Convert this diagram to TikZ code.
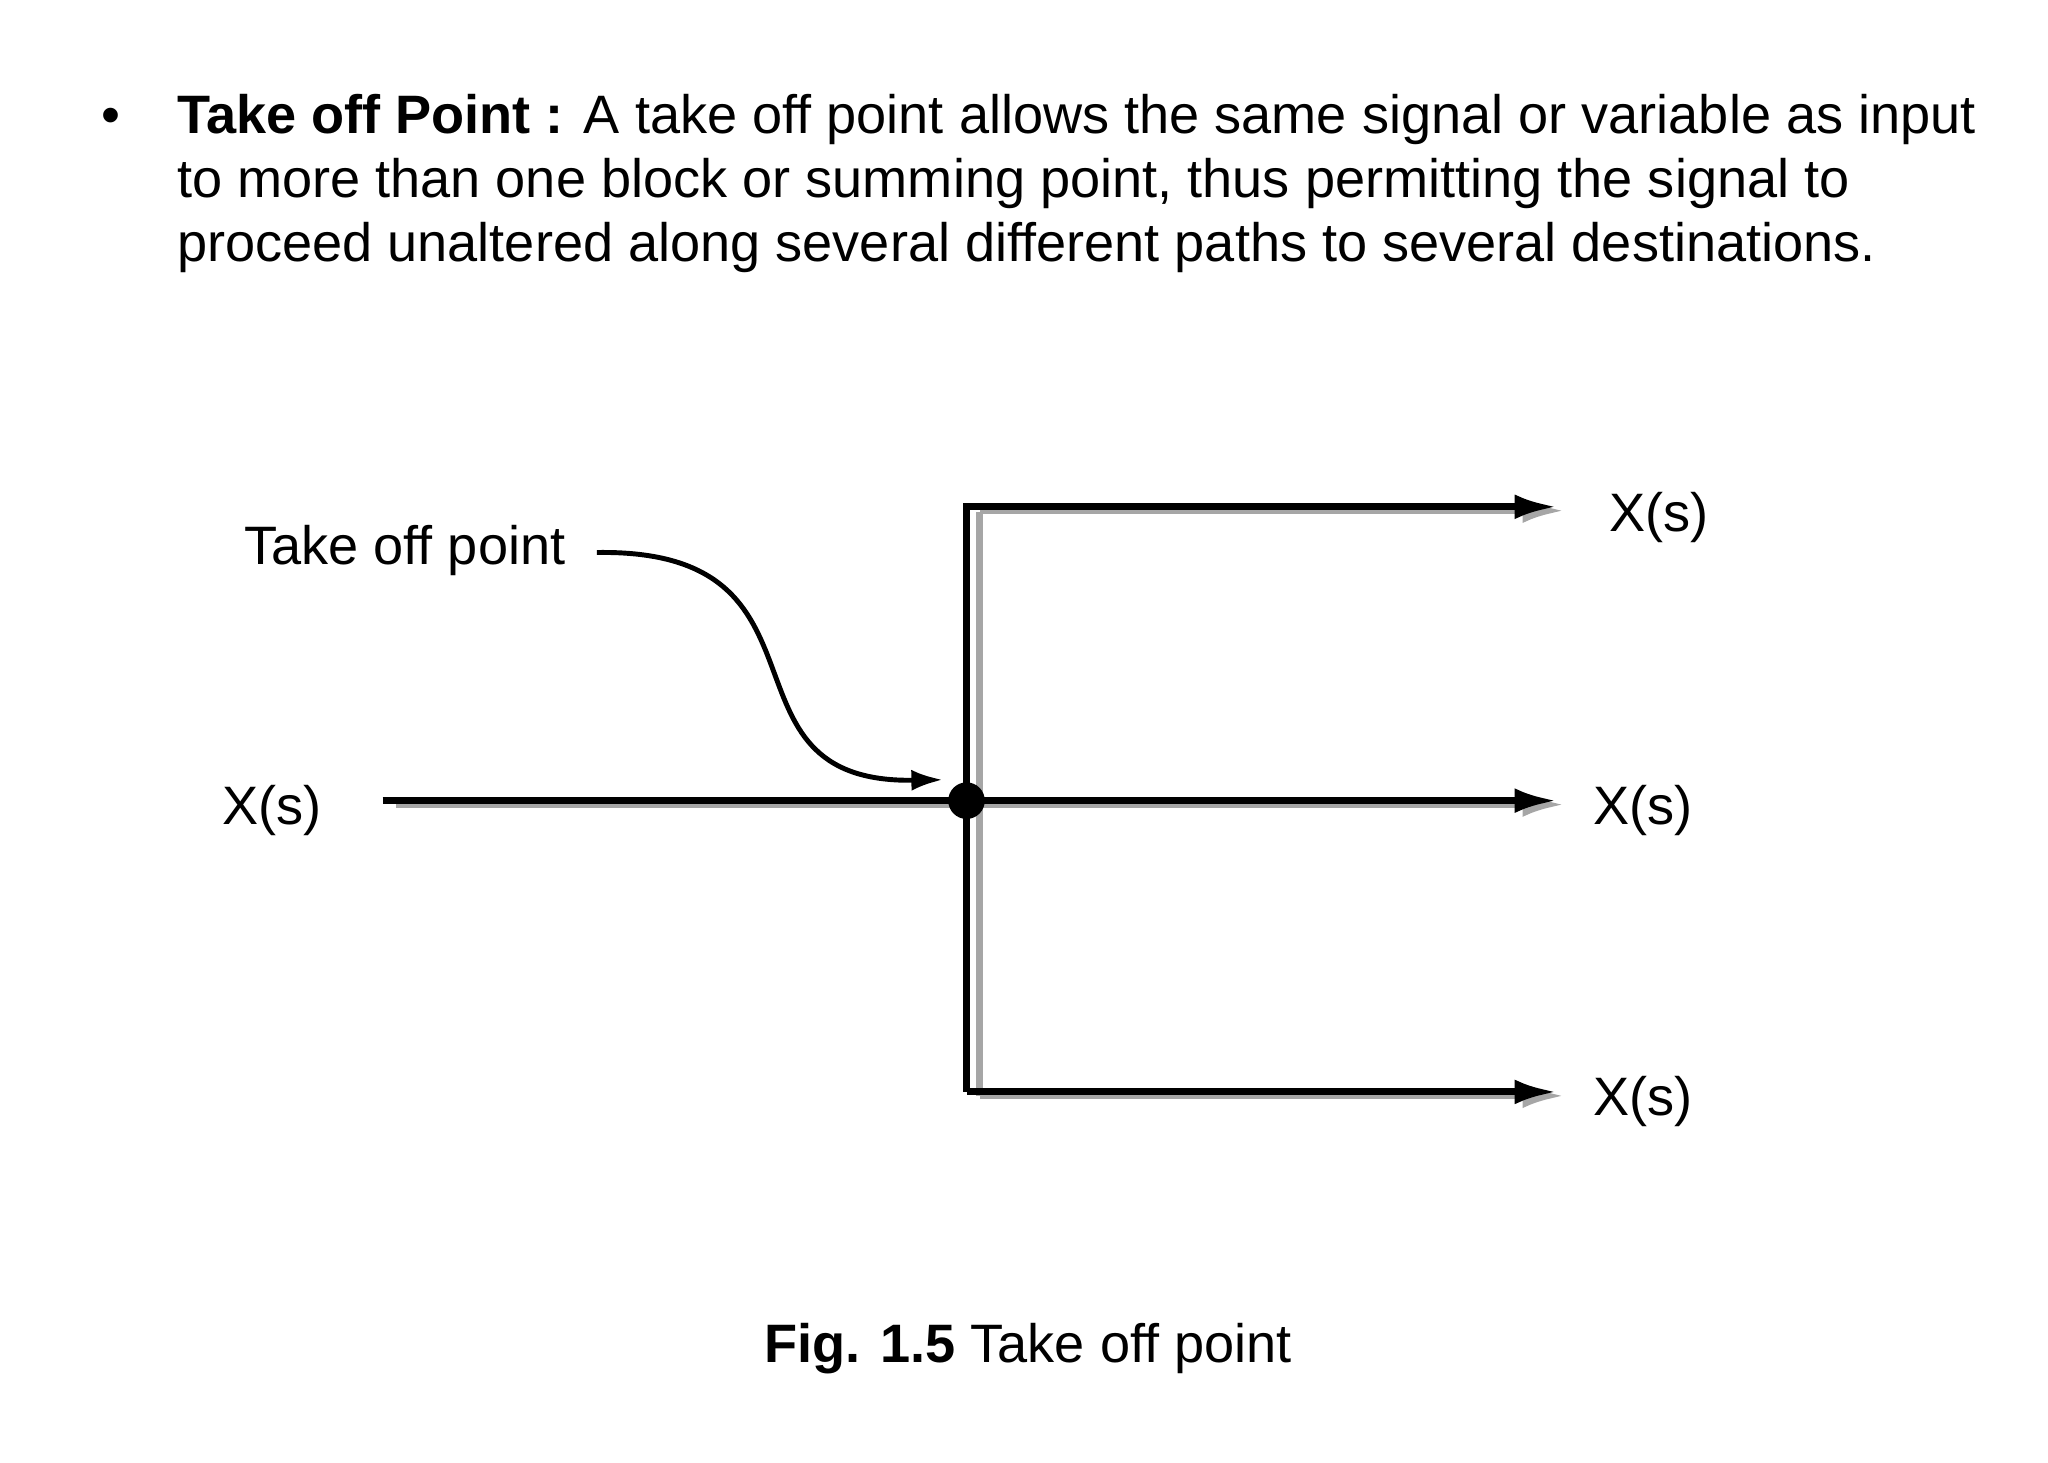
\documentclass[tikz,border=0pt]{standalone}
\usepackage{fontspec}
\setmainfont{Liberation Sans}
\usetikzlibrary{arrows.meta}
\begin{document}
\begin{tikzpicture}[x=0.01306cm,y=-0.01306cm,
  wire/.style={line width=2pt,black},
  shadow/.style={line width=2pt,gray!70},
  lbl/.style={font=\fontsize{15.4}{18}\selectfont,inner sep=0pt}]
\useasboundingbox (0,0) rectangle (1568,1120);
% text
\node[lbl,anchor=base] (bul) at (85,102) {•};
\node[lbl,anchor=base west] (l1) at (135,102) {\textbf{Take off Point :} A take off point allows the same signal or variable as input};
\node[lbl,anchor=base west] (l2) at (135,151) {to more than one block or summing point, thus permitting the signal to};
\node[lbl,anchor=base west] (l3) at (135,200) {proceed unaltered along several different paths to several destinations.};
% coordinates
\coordinate (in) at (293,613);
\coordinate (tp) at (740,613);
\coordinate (vt) at (740,388);
\coordinate (vb) at (740,836);
\coordinate (o1) at (1192,388);
\coordinate (o2) at (1192,613);
\coordinate (o3) at (1192,836);
% shadows
\draw[shadow,-{Latex[length=12pt,width=7pt]}] ([shift={(10,3)}]in) -- ([shift={(6,3)}]o2);
\draw[shadow] ([shift={(10,4)}]vt) -- ([shift={(10,3)}]vb);
\draw[shadow,-{Latex[length=12pt,width=7pt]}] ([shift={(10,3)}]vt) -- ([shift={(6,3)}]o1);
\draw[shadow,-{Latex[length=12pt,width=7pt]}] ([shift={(10,3)}]vb) -- ([shift={(6,3)}]o3);
% wires
\draw[wire,-{Latex[length=12pt,width=7pt]}] (in) -- (o2);
\draw[wire,-{Latex[length=12pt,width=7pt]}] (vb) -- (vt) -- (o1);
\draw[wire,-{Latex[length=12pt,width=7pt]}] (vb) -- (o3);
\fill[black] (tp) circle (14);
% labels
\node[lbl,anchor=base] (xin) at (208,631) {X(s)};
\node[lbl,anchor=base] (x1) at (1270,407) {X(s)};
\node[lbl,anchor=base] (x2) at (1258,631) {X(s)};
\node[lbl,anchor=base] (x3) at (1258,854) {X(s)};
\node[lbl,anchor=base] (tk) at (310,432) {Take off point};
\coordinate (cs) at (457,423);
\coordinate (ce) at (722,597);
\draw[line width=1.4pt,-{Latex[length=9pt,width=6pt]}] (cs) .. controls (650,420) and (540,600) .. (ce);
\node[lbl,anchor=base] (cap) at (787,1043) {\textbf{Fig. 1.5} Take off point};
\end{tikzpicture}
\end{document}
